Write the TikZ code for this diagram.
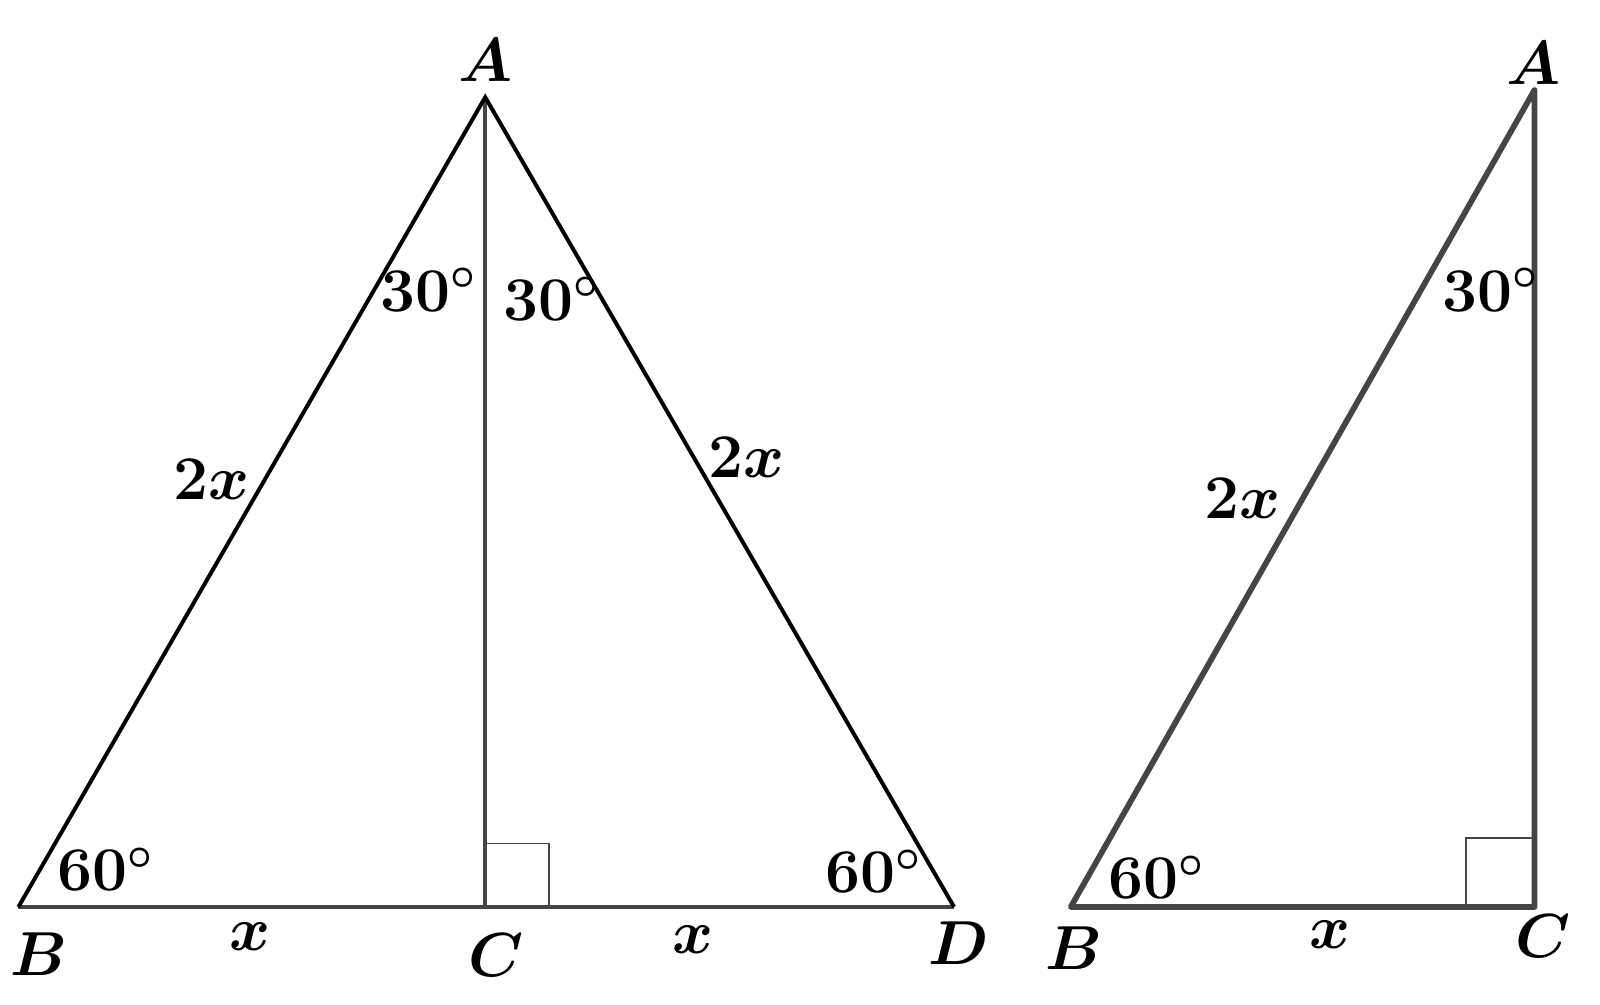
\documentclass[tikz,border=0pt]{standalone}
\usepackage{amsmath,amssymb}
\usepackage{tikz}
\usetikzlibrary{calc}

\definecolor{edgegray}{HTML}{454545}

\begin{document}
\begin{tikzpicture}[lbl/.style={font=\fontsize{17.2}{20}\selectfont\boldmath, inner sep=0pt},
    side/.style={line width=1.1pt, black},
    base/.style={line width=1.2pt, edgegray},
    rside/.style={line width=1.6pt, edgegray, line cap=round, line join=round}]
        \useasboundingbox (0,0) rectangle (15.63,9.81);

        % equilateral triangle split by the altitude
        \coordinate (B) at (0.18,0.95);
        \coordinate (C) at (4.74,0.95);
        \coordinate (D) at (9.32,0.95);
        \coordinate (A) at (4.74,8.86);

        \draw[base] (B)--(D);
        \draw[base] (C)--(A);
        \draw[side] (B)--(A)--(D);
        \draw[line width=0.5pt, edgegray] (C) rectangle ($(C)+(0.62,0.62)$);

        \node[lbl] (lA) at (4.74,9.22) {$A$};
        \node[lbl] (lB) at (0.38,0.49) {$B$};
        \node[lbl] (lC) at (4.85,0.48) {$C$};
        \node[lbl] (lD) at (9.36,0.60) {$D$};
        \node[lbl] (aL) at (4.19,6.98) {$30^\circ$};
        \node[lbl] (aR) at (5.39,6.89) {$30^\circ$};
        \node[lbl] (bL) at (1.03,1.32) {$60^\circ$};
        \node[lbl] (bR) at (8.54,1.30) {$60^\circ$};
        \node[lbl] (sL) at (2.07,5.13) {$2x$};
        \node[lbl] (sR) at (7.29,5.34) {$2x$};
        \node[lbl] (xL) at (2.44,0.66) {$x$};
        \node[lbl] (xR) at (6.77,0.63) {$x$};

        % the half triangle
        \coordinate (B2) at (10.46,0.95);
        \coordinate (C2) at (14.99,0.95);
        \coordinate (A2) at (14.99,8.93);

        \draw[line width=0.5pt, edgegray] (C2) rectangle ($(C2)+(-0.67,0.67)$);
        \draw[rside] (B2)--(C2)--(A2)--cycle;

        \node[lbl] (lA2) at (14.98,9.19) {$A$};
        \node[lbl] (lB2) at (10.49,0.55) {$B$};
        \node[lbl] (lC2) at (15.07,0.66) {$C$};
        \node[lbl] (aA2) at (14.56,6.98) {$30^\circ$};
        \node[lbl] (bB2) at (11.30,1.24) {$60^\circ$};
        \node[lbl] (s2) at (12.14,4.94) {$2x$};
        \node[lbl] (x2) at (12.99,0.68) {$x$};
    \end{tikzpicture}
\end{document}
